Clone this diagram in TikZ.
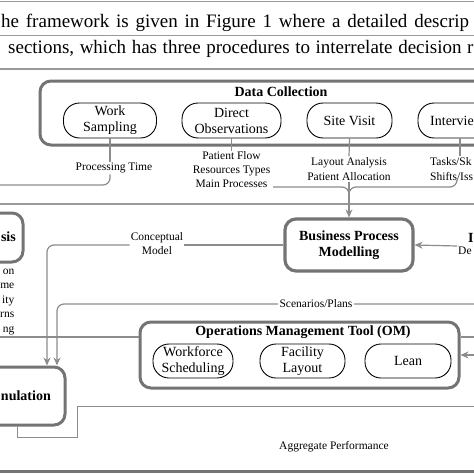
\documentclass[tikz,border=0pt]{standalone}
\usepackage{fontspec}
\setmainfont{Liberation Serif}
\usetikzlibrary{arrows.meta,calc}
\definecolor{boxgray}{HTML}{747474}
\definecolor{linegray}{HTML}{8C8C8C}
\definecolor{rulegray}{HTML}{9A9A9A}
\begin{document}
\begin{tikzpicture}[x=1pt,y=-1pt,
  bigbox/.style={draw=boxgray, line width=3pt, rounded corners=11pt, inner sep=0pt},
  pill/.style={draw=black, line width=0.9pt, rounded corners=16pt, align=center,
    font=\fontsize{14}{16}\selectfont, inner sep=0pt},
  conn/.style={draw=linegray, line width=1.2pt, rounded corners=7pt},
  arr/.style={conn, -{Stealth[length=8pt,width=7pt]}},
  lbl/.style={font=\fontsize{11.5}{14}\selectfont, align=center, inner sep=1pt},
  ttl/.style={font=\bfseries\fontsize{14}{16}\selectfont, align=center, inner sep=0pt},
  rulel/.style={draw=rulegray, line width=1.2pt},
  body/.style={anchor=base west, inner sep=0pt, font=\fontsize{19}{21}\selectfont},
]
\useasboundingbox (0,0) rectangle (474,474);
\clip (0,0) rectangle (474,474);
\fill[white] (0,0) rectangle (474,474);

% page text and rules
\draw[rulel] (0,1.5) -- (474,1.5);
\draw[rulel] (0,35.5) -- (474,35.5);
\draw[rulel] (0,69) -- (474,69);
\node[body] (t1) at (1,27)
  {\spaceskip=6.8pt he framework is given in Figure 1 where a detailed descrip};
\node[body] (t2) at (8,53)
  {\spaceskip=5.6pt sections, which has three procedures to interrelate decision r};
\draw[rulel] (0,204) -- (474,204);

% Data collection
\node[bigbox, minimum width=480pt, minimum height=64pt] (dc) at (280,113) {};
\node[ttl] (dct) at (281,92) {Data Collection};
\node[pill, minimum width=93pt, minimum height=35pt] (ws) at (110,120.5) {Work\\Sampling};
\node[pill, minimum width=99pt, minimum height=35pt] (do) at (231.5,120.5) {Direct\\Observations};
\node[pill, minimum width=85pt, minimum height=35pt] (sv) at (349.5,120.5) {Site Visit};
\node[pill, minimum width=90pt, minimum height=35pt] (iv) at (463,120.5) {};
\node[anchor=west, inner sep=0pt, font=\fontsize{14}{16}\selectfont] (ivt) at (430,121) {Intervie};

% labels below data collection
\node[lbl] (pt) at (114,168) {Processing Time};
\node[lbl] (doL) at (231.5,170) {Patient Flow\\Resources Types\\Main Processes};
\node[lbl, font=\fontsize{11.5}{15}\selectfont] (svL) at (349,169) {Layout Analysis\\Patient Allocation};
\node[lbl, align=left, anchor=west, font=\fontsize{11.5}{15}\selectfont] (ivL) at (429,169) {Tasks/Sk\\Shifts/Iss};

% BPM
\node[bigbox, ttl, line width=3.2pt, minimum width=128pt, minimum height=52pt] (bpm) at (349,245) {Business Process\\Modelling};
\node[anchor=west, inner sep=0pt, font=\bfseries\fontsize{14}{16}\selectfont] (rb) at (468,238) {I};
\node[lbl, anchor=west, inner sep=0pt] (rd) at (458,251) {De};

% Analysis box (cropped)
\node[bigbox, minimum width=126pt, minimum height=49pt] (an) at (-40,237.5) {};
\node[ttl, anchor=east] (ant) at (16,237) {sis};
\node[lbl, align=right, anchor=east, font=\fontsize{11.5}{14.5}\selectfont] (anL) at (15.5,302) {on\\me\\ity\\rns\\ng};

% OM
\node[bigbox, minimum width=319pt, minimum height=66pt] (om) at (299.5,355) {};
\node[ttl] (omt) at (303,332) {Operations Management Tool (OM)};
\node[pill, minimum width=80pt, minimum height=34pt] (wf) at (193,361) {Workforce\\Scheduling};
\node[pill, minimum width=85pt, minimum height=34pt] (fl) at (302.5,361) {Facility\\Layout};
\node[pill, minimum width=86pt, minimum height=34pt] (ln) at (408,361) {Lean};

% Simulation (cropped)
\node[bigbox, minimum width=155pt, minimum height=58pt] (sim) at (-12.5,396) {};
\node[ttl, anchor=east] (simt) at (51,396) {nulation};

% helper coordinates
\coordinate (x17) at (17,0);
\coordinate (x47) at (47,0);
\coordinate (x57) at (57,0);
\coordinate (x110) at (110,0);
\coordinate (x460) at (460,0);
\coordinate (ptout) at (-2,185);
\coordinate (doEnd) at (273,187);
\coordinate (ivEnd) at (457,181);
\coordinate (jn) at (349,196);
\coordinate (rIn) at (457,246);
\coordinate (scR) at (476,304);
\coordinate (l337) at (-2,337);
\coordinate (r337) at (476,337);
\coordinate (r355) at (476,355);
\coordinate (ap1) at (77,437);
\coordinate (apR) at (476,406);

% connectors from data collection
\draw[conn] (ws.south -| x110) -- (pt.north -| x110);
\draw[conn] (pt.south -| x110) |- (ptout);
\draw[conn] (do.south) -- (doL.north);
\draw[conn] (sv.south) -- (svL.north);
\draw[conn] (iv.south -| x460) -- (ivL.north -| x460);
\draw[conn] (doEnd) -| (jn);
\draw[conn] (ivEnd) |- (jn |- doEnd) -- (jn);
\draw[arr] (svL.south) -- (bpm.north);
\draw[arr] (rIn) -- (bpm.east);

% conceptual model
\node[lbl] (cm) at (157,244) {Conceptual\\Model};
\draw[conn] (bpm.west) -- (cm.east |- bpm.west);
\draw[arr] (cm.west |- bpm.west) -| (sim.north -| x47);

% scenarios/plans
\draw[arr] (scR) -| (sim.north -| x57);
\node[lbl, fill=white, inner sep=2pt] (sc) at (316,304) {Scenarios/Plans};

% lines around OM
\draw[conn] (l337) -- (l337 -| om.west);
\draw[conn] (r337) -- (r337 -| om.east);
\draw[arr] (r355) -- (r355 -| om.east);

% aggregate performance
\draw[conn, rounded corners=0pt, line width=1pt] (sim.south -| x17) |- (ap1) |- (apR);
\node[lbl] (ap) at (334,447) {Aggregate Performance};

\draw[draw=boxgray, line width=3pt] (0,471.5) -- (474,471.5);
\end{tikzpicture}
\end{document}
